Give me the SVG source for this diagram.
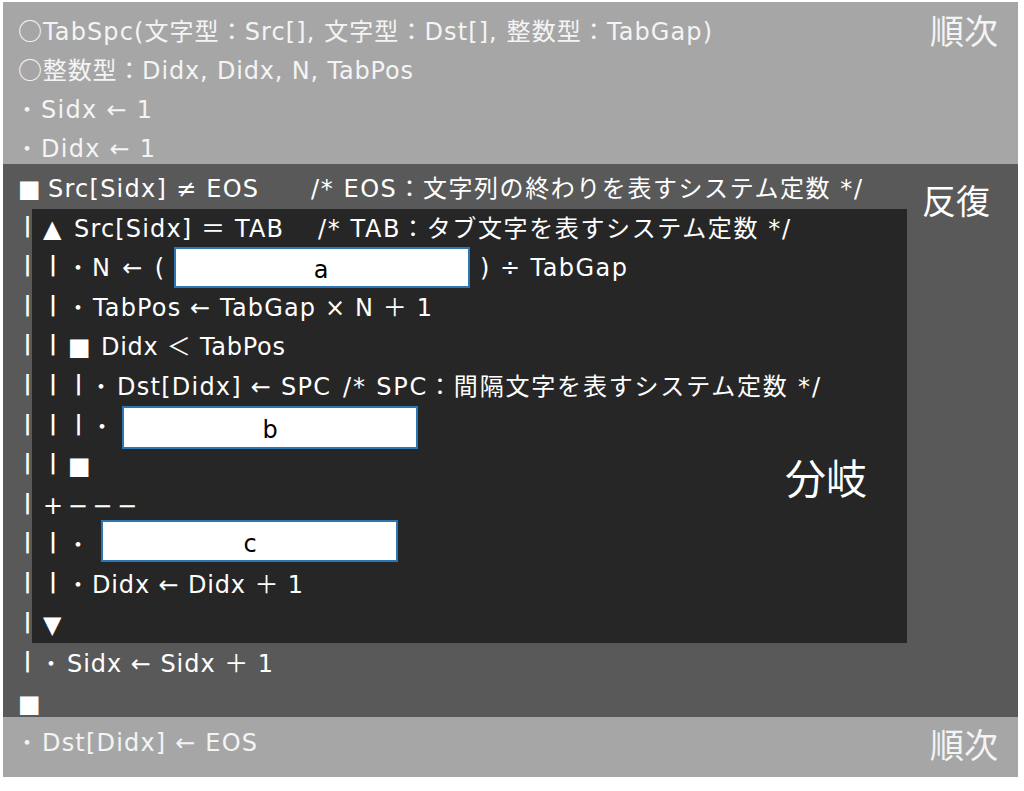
<svg xmlns="http://www.w3.org/2000/svg" width="1024" height="791" viewBox="0 0 1024 791">
<style>
text{font-family:"DejaVu Sans","Noto Sans CJK JP",sans-serif;fill:#ffffff;font-size:24px}
.lt{fill:#f4f4f4}
.cjk{font-family:"Noto Sans CJK JP",sans-serif}
.big{font-family:"Noto Sans CJK JP",sans-serif;font-size:34px}
.bar{font-size:22px;font-weight:bold}
.dot{font-family:"Noto Sans CJK JP",sans-serif;text-anchor:middle;font-weight:bold}
.box{fill:#ffffff;stroke:#2e75b6;stroke-width:2}
.bl{fill:#000000;text-anchor:middle}
</style>
<rect width="1024" height="791" fill="#ffffff"/>
<g id="seq-top">
<rect x="3" y="2" width="1015" height="162" fill="#a6a6a6"/>
<text class="lt" x="18" y="40" textLength="694"><tspan class="cjk">○</tspan>TabSpc(文字型：Src[], 文字型：Dst[], 整数型：TabGap)</text>
<text class="lt" x="18" y="79" textLength="395"><tspan class="cjk">○</tspan>整数型：Didx, Didx, N, TabPos</text>
<text class="lt dot" x="27" y="118">･</text><text class="lt" x="41" y="118" textLength="111">Sidx ← 1</text>
<text class="lt dot" x="27" y="157">･</text><text class="lt" x="41" y="157" textLength="114">Didx ← 1</text>
<text class="big lt" x="930" y="44">順次</text>
</g>
<g id="loop">
<rect x="3" y="164" width="1015" height="553" fill="#595959"/>
<text x="18" y="197">■</text><text x="48" y="197" textLength="210">Src[Sidx] ≠ EOS</text>
<text x="311" y="197" textLength="551">/* EOS：文字列の終わりを表すシステム定数 */</text>
<text class="big" x="922" y="214">反復</text>
<text class="bar" x="23.5" y="232">|</text>
<text class="bar" x="23.5" y="271">|</text><text class="bar" x="23.5" y="311">|</text><text class="bar" x="23.5" y="350">|</text><text class="bar" x="23.5" y="390">|</text>
<text class="bar" x="23.5" y="430">|</text><text class="bar" x="23.5" y="469">|</text><text class="bar" x="23.5" y="509">|</text><text class="bar" x="23.5" y="548">|</text>
<text class="bar" x="23.5" y="588">|</text><text class="bar" x="23.5" y="628">|</text><text class="bar" x="23.5" y="667">|</text>
<text class="dot" x="51" y="672">･</text><text x="67" y="672" textLength="206">Sidx ← Sidx ＋ 1</text>
<text x="18" y="712">■</text>
</g>
<g id="branch">
<rect x="32" y="209" width="875" height="434" fill="#262626"/>
<text x="43" y="237">▲</text><text x="74" y="237" textLength="209">Src[Sidx] ＝ TAB</text>
<text x="318" y="237" textLength="472">/* TAB：タブ文字を表すシステム定数 */</text>
<text class="bar" x="49" y="271">|</text><text class="dot" x="78" y="276">･</text><text x="92" y="276" textLength="72">N ← (</text>
<text x="480" y="276" textLength="147">) ÷ TabGap</text>
<text class="bar" x="49" y="311">|</text><text class="dot" x="78" y="316">･</text><text x="93" y="316" textLength="339">TabPos ← TabGap × N ＋ 1</text>
<text class="bar" x="49" y="350">|</text><text x="68" y="355">■</text><text x="101" y="355" textLength="184">Didx ＜ TabPos</text>
<text class="bar" x="49" y="390">|</text><text class="bar" x="74.5" y="390">|</text><text class="dot" x="101" y="395">･</text><text x="117" y="395" textLength="213">Dst[Didx] ← SPC</text>
<text x="343" y="395" textLength="477">/* SPC：間隔文字を表すシステム定数 */</text>
<text class="bar" x="49" y="430">|</text><text class="bar" x="74.5" y="430">|</text><text class="dot" x="102" y="435">･</text>
<text class="bar" x="49" y="469">|</text><text x="68" y="474">■</text>
<text x="43" y="514" textLength="94">+−−−</text>
<text class="bar" x="49" y="548">|</text><text class="dot" x="78" y="553">･</text>
<text class="bar" x="49" y="588">|</text><text class="dot" x="78" y="593">･</text><text x="92" y="593" textLength="211">Didx ← Didx ＋ 1</text>
<text x="43" y="633">▼</text>
<text class="big" x="785" y="494" style="font-size:41px">分岐</text>
</g>
<g id="blank-a"><rect class="box" x="175" y="248" width="294" height="39"/><text class="bl" x="321" y="278">a</text></g>
<g id="blank-b"><rect class="box" x="123" y="407" width="294" height="41"/><text class="bl" x="270" y="438">b</text></g>
<g id="blank-c"><rect class="box" x="102" y="521" width="295" height="40"/><text class="bl" x="250" y="552">c</text></g>
<g id="seq-bottom">
<rect x="3" y="717" width="1015" height="60" fill="#a6a6a6"/>
<text class="lt dot" x="27" y="751">･</text><text class="lt" x="42" y="751" textLength="215">Dst[Didx] ← EOS</text>
<text class="big lt" x="930" y="758">順次</text>
</g>
</svg>
